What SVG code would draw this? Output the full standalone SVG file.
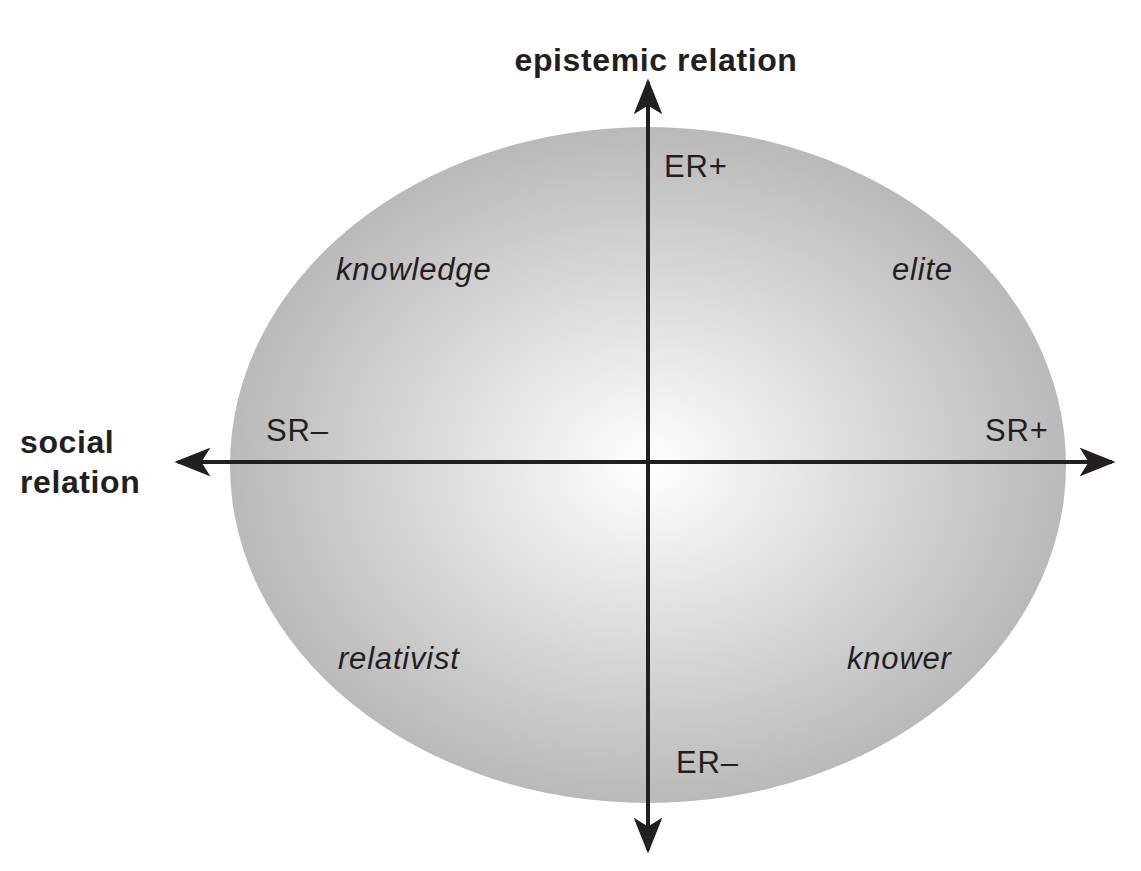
<svg xmlns="http://www.w3.org/2000/svg" width="1141" height="871" viewBox="0 0 1141 871">
<style>
.t{font-family:"Liberation Sans",Arial,sans-serif;font-size:31px;letter-spacing:0.8px;fill:#231f20}
.b{font-weight:bold;font-size:32px;letter-spacing:0.6px}
.i{font-style:italic}
.ax{stroke:#231f20;stroke-width:4;fill:none}
</style>
<defs>
<radialGradient id="g" cx="0.5" cy="0.5" r="0.5">
<stop offset="0" stop-color="#ffffff"/>
<stop offset="1" stop-color="#b9b9b9"/>
</radialGradient>
<marker id="a" viewBox="0 0 20 16" refX="18" refY="8" markerWidth="9" markerHeight="7.2" orient="auto-start-reverse" markerUnits="strokeWidth">
<path d="M0,0 L20,8 L0,16 L5,8 Z" fill="#231f20"/>
</marker>
</defs>
<rect width="1141" height="871" fill="#fff"/>
<g id="ellipse"><ellipse cx="648" cy="465" rx="418" ry="338" fill="url(#g)"/></g>
<g id="connectors">
<line class="ax" x1="648" y1="850" x2="648" y2="82" marker-start="url(#a)" marker-end="url(#a)"/>
<line class="ax" x1="178" y1="462" x2="1112" y2="462" marker-start="url(#a)" marker-end="url(#a)"/>
</g>
<g id="labels">
<text class="t b" x="656" y="71" text-anchor="middle">epistemic relation</text>
<text class="t b" x="20" y="453">social</text>
<text class="t b" x="20" y="493">relation</text>
<text class="t" x="664" y="177">ER+</text>
<text class="t" x="676" y="773">ER–</text>
<text class="t" x="266" y="441">SR–</text>
<text class="t" x="985" y="441">SR+</text>
<text class="t i" x="336" y="280">knowledge</text>
<text class="t i" x="892" y="280">elite</text>
<text class="t i" x="338" y="669">relativist</text>
<text class="t i" x="847" y="669">knower</text>
</g>
</svg>
